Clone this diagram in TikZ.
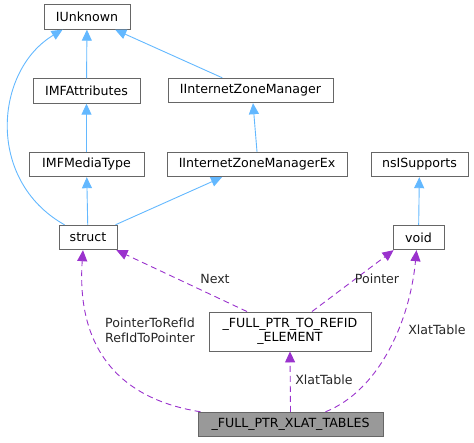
\documentclass[tikz,border=0pt]{standalone}
\usepackage{fontspec}
\setmainfont{DejaVu Sans}
\usetikzlibrary{arrows.meta}
\definecolor{edgeblue}{HTML}{63B8FF}
\definecolor{edgepurple}{HTML}{9A32CD}
\definecolor{boxgray}{HTML}{666666}
\definecolor{fillgray}{HTML}{999999}
\tikzset{
  cls/.style={draw=boxgray, fill=white, line width=0.9pt, inner sep=0pt, minimum height=24.5pt,
    font=\fontsize{12.6}{14.5}\selectfont, align=center},
  blueedge/.style={draw=edgeblue, line width=0.9pt, -{Triangle[length=11pt,width=10pt]}},
  purpleedge/.style={draw=edgepurple, line width=0.9pt, dash pattern=on 6pt off 4pt,
    -{Triangle[length=11pt,width=10pt]}},
  lbl/.style={font=\fontsize{12.6}{14.5}\selectfont, align=center, inner sep=0pt, text=black!85},
}
\begin{document}
\begin{tikzpicture}[x=1pt,y=-1pt]
\useasboundingbox (0,0) rectangle (474,443);
\node[cls, minimum width=86pt] (iunk) at (87,17) {IUnknown};
\node[cls, minimum width=107pt] (imfa) at (86.5,91) {IMFAttributes};
\node[cls, minimum width=115pt] (imfm) at (86.5,164.5) {IMFMediaType};
\node[cls, minimum width=58pt] (st) at (88,237.5) {struct};
\node[cls, minimum width=165pt] (iizm) at (250.5,90.5) {IInternetZoneManager};
\node[cls, minimum width=180pt] (iizmex) at (257,164.5) {IInternetZoneManagerEx};
\node[cls, minimum width=97pt] (nsis) at (419.5,164.5) {nsISupports};
\node[cls, minimum width=51pt] (void) at (418.5,237.5) {void};
\node[cls, minimum width=162pt, minimum height=39pt] (ref) at (290,331.5) {\_FULL\_PTR\_TO\_REFID\\\_ELEMENT};
\node[cls, fill=fillgray, minimum width=185pt] (xlat) at (290.5,424.5) {\_FULL\_PTR\_XLAT\_TABLES};

\draw[blueedge] (imfa) -- (iunk);
\draw[blueedge] (iizm) -- (iunk);
\draw[blueedge] ([xshift=6pt]st.north west) .. controls (-15,180) and (-5,70) .. ([xshift=19pt]iunk.south west);
\draw[blueedge] (imfm) -- (imfa);
\draw[blueedge] (st) -- (imfm);
\draw[blueedge] ([xshift=-2pt]st.north east) -- ([xshift=-35pt]iizmex.south);
\draw[blueedge] (iizmex.north) -- ([xshift=2.5pt]iizm.south);
\draw[blueedge] (void) -- (nsis);

\draw[purpleedge] ([xshift=3pt]xlat.north west) .. controls (95,395) and (78,320) .. ([xshift=-5pt]st.south);
\draw[purpleedge] ([xshift=-43pt]ref.north) -- ([xshift=-1pt]st.south east);
\draw[purpleedge] ([xshift=22pt]ref.north) -- ([xshift=1pt]void.south west);
\draw[purpleedge] (xlat.north) -- (ref.south);
\draw[purpleedge] ([xshift=35pt]xlat.north) .. controls (380,390) and (410,320) .. ([xshift=-2pt]void.south);

\node[lbl] (lnext) at (215,279) {Next};
\node[lbl] (lptr) at (377,279) {Pointer};
\node[lbl] (lprr) at (150,330.5) {PointerToRefId\\RefIdToPointer};
\node[lbl] (lxr) at (437,330) {XlatTable};
\node[lbl] (lxm) at (324,380) {XlatTable};
\end{tikzpicture}
\end{document}
